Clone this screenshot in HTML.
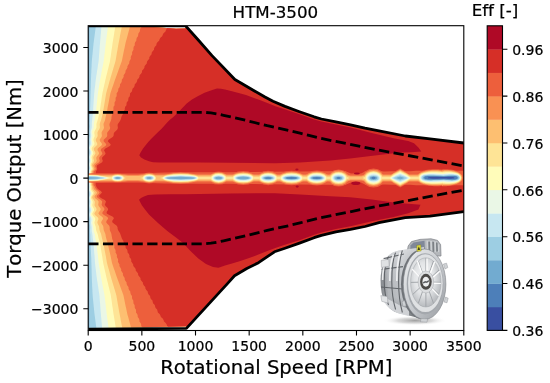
<!DOCTYPE html>
<html><head><meta charset="utf-8"><title>HTM-3500</title>
<style>html,body{margin:0;padding:0;background:#fff;overflow:hidden}svg{display:block}text{font-family:"DejaVu Sans","Liberation Sans",sans-serif;fill:#000;stroke:#000;stroke-width:0.22px;font-kerning:none;font-variant-ligatures:none}</style></head><body>
<svg width="550" height="383" viewBox="0 0 550 383">
<defs><clipPath id="env"><polygon points="88.2,26.0 150.0,26.7 176.0,28.8 185.0,28.6 186.4,26.8 198.5,40.3 212.0,55.6 234.9,79.5 246.0,86.0 254.5,91.0 265.0,97.0 273.0,101.3 285.0,106.4 299.5,111.7 314.1,116.8 321.4,119.0 335.9,121.9 350.5,124.8 365.0,128.2 379.0,130.9 405.3,136.0 430.0,138.8 463.8,143.0 463.8,211.6 430.0,216.2 405.3,217.6 379.0,222.7 365.0,226.5 350.5,229.4 335.9,231.9 321.4,235.3 314.1,237.7 299.5,243.1 285.0,248.2 274.5,251.8 258.5,262.7 246.8,268.5 234.5,275.8 227.9,283.1 188.0,326.2 88.2,328.5"/></clipPath>
<clipPath id="axc"><rect x="88.2" y="25.7" width="375.6" height="304.8"/></clipPath>
<linearGradient id="mBody" x1="0" y1="0" x2="1" y2="0"><stop offset="0" stop-color="#7d8186"/><stop offset="0.18" stop-color="#b9bcc0"/><stop offset="0.5" stop-color="#c9ccd0"/><stop offset="0.8" stop-color="#a3a7ab"/><stop offset="1" stop-color="#8b8f94"/></linearGradient>
<linearGradient id="mBodyV" x1="0" y1="0" x2="0" y2="1"><stop offset="0" stop-color="#e4e6e8" stop-opacity="0.75"/><stop offset="0.3" stop-color="#d0d2d5" stop-opacity="0.15"/><stop offset="0.7" stop-color="#6a6d71" stop-opacity="0.1"/><stop offset="1" stop-color="#4c4f53" stop-opacity="0.6"/></linearGradient>
<radialGradient id="mFace" cx="0.45" cy="0.42" r="0.6"><stop offset="0" stop-color="#f7f8f9"/><stop offset="0.55" stop-color="#e2e4e6"/><stop offset="1" stop-color="#b4b7bb"/></radialGradient>
<linearGradient id="mRing" x1="0" y1="0" x2="1" y2="1"><stop offset="0" stop-color="#f0f1f2"/><stop offset="0.5" stop-color="#c9ccd0"/><stop offset="1" stop-color="#969a9f"/></linearGradient>
<radialGradient id="mShadow" cx="0.5" cy="0.5" r="0.5"><stop offset="0" stop-color="#8e8e8e" stop-opacity="0.85"/><stop offset="0.55" stop-color="#bdbdbd" stop-opacity="0.55"/><stop offset="1" stop-color="#ffffff" stop-opacity="0"/></radialGradient>
<filter id="mBlur" x="-10%" y="-10%" width="120%" height="120%"><feGaussianBlur stdDeviation="0.45"/></filter>

</defs>
<rect width="550" height="383" fill="#fff"/>
<g clip-path="url(#env)">
<rect x="88" y="25" width="377" height="306" fill="#9dcee3"/>
<rect x="88" y="25" width="1.2" height="306" fill="#72abd0"/>
<polygon points="95.9,25.7 95.7,27.2 95.5,28.7 95.3,30.2 95.1,31.7 94.9,33.2 94.7,34.7 94.5,36.2 94.3,37.7 94.1,39.2 93.9,40.7 93.7,42.2 93.5,43.7 93.4,45.2 93.2,46.7 93.1,48.2 92.9,49.7 92.8,51.2 92.6,52.7 92.5,54.2 92.3,55.7 92.2,57.2 92.0,58.7 91.9,60.2 91.8,61.7 91.7,63.2 91.6,64.7 91.6,66.2 91.5,67.7 91.4,69.2 91.3,70.7 91.3,72.2 91.2,73.7 91.1,75.2 91.1,76.7 91.0,78.2 91.0,79.7 90.9,81.2 90.9,82.7 90.8,84.2 90.8,85.7 90.8,87.2 90.7,88.7 90.7,90.2 90.6,91.7 90.6,93.2 90.5,94.7 90.5,96.2 90.5,97.7 90.4,99.2 90.4,100.7 90.3,102.2 90.3,103.7 90.2,105.2 90.2,106.7 90.1,108.2 90.1,109.7 90.0,111.2 90.0,112.7 90.0,114.2 90.0,115.7 89.9,117.2 89.9,118.7 89.9,120.2 89.9,121.7 89.8,123.2 89.9,124.7 90.0,126.2 89.9,127.7 89.8,129.2 89.6,130.7 89.6,132.2 89.7,133.7 89.8,135.2 89.7,136.7 89.5,138.2 89.4,139.7 89.5,141.2 89.6,142.7 89.5,144.2 89.2,145.7 89.0,147.2 89.1,148.7 89.4,150.2 89.6,151.7 89.6,153.2 89.3,154.7 89.1,156.2 89.1,157.7 89.2,159.2 89.3,160.7 89.2,162.2 89.1,163.7 89.1,165.2 89.2,166.7 89.3,168.2 89.1,169.7 88.9,171.2 88.9,185.0 89.0,186.5 89.0,188.0 88.9,189.5 89.1,191.0 89.4,192.5 89.5,194.0 89.4,195.5 89.1,197.0 89.1,198.5 89.2,200.0 89.4,201.5 89.3,203.0 89.2,204.5 89.1,206.0 89.3,207.5 89.5,209.0 89.7,210.5 89.5,212.0 89.2,213.5 89.1,215.0 89.3,216.5 89.6,218.0 89.8,219.5 89.8,221.0 89.7,222.5 89.8,224.0 90.0,225.5 90.1,227.0 90.1,228.5 90.0,230.0 90.0,231.5 90.1,233.0 90.3,234.5 90.3,236.0 90.3,237.5 90.4,239.0 90.4,240.5 90.5,242.0 90.5,243.5 90.6,245.0 90.6,246.5 90.7,248.0 90.8,249.5 90.9,251.0 91.0,252.5 91.0,254.0 91.1,255.5 91.2,257.0 91.3,258.5 91.3,260.0 91.3,261.5 91.4,263.0 91.4,264.5 91.5,266.0 91.5,267.5 91.6,269.0 91.6,270.5 91.6,272.0 91.7,273.5 91.7,275.0 91.8,276.5 91.8,278.0 91.9,279.5 91.9,281.0 92.0,282.5 92.1,284.0 92.1,285.5 92.2,287.0 92.3,288.5 92.4,290.0 92.4,291.5 92.5,293.0 92.6,294.5 92.7,296.0 92.8,297.5 93.0,299.0 93.1,300.5 93.3,302.0 93.4,303.5 93.6,305.0 93.7,306.5 93.9,308.0 94.0,309.5 94.2,311.0 94.3,312.5 94.5,314.0 94.7,315.5 94.9,317.0 95.1,318.5 95.3,320.0 95.5,321.5 95.7,323.0 95.9,324.5 96.1,326.0 96.3,327.5 96.5,329.0 96.7,330.5 470.0,330.5 470.0,25.7" fill="#c7e7f1"/>
<polygon points="101.5,25.7 101.4,27.2 101.2,28.7 101.1,30.2 101.0,31.7 100.9,33.2 100.7,34.7 100.6,36.2 100.5,37.7 100.3,39.2 100.2,40.7 100.1,42.2 100.0,43.7 99.8,45.2 99.7,46.7 99.6,48.2 99.5,49.7 99.4,51.2 99.3,52.7 99.1,54.2 99.0,55.7 98.9,57.2 98.8,58.7 98.7,60.2 98.5,61.7 98.3,63.2 98.0,64.7 97.8,66.2 97.6,67.7 97.4,69.2 97.1,70.7 96.9,72.2 96.7,73.7 96.4,75.2 96.2,76.7 96.0,78.2 95.8,79.7 95.6,81.2 95.4,82.7 95.3,84.2 95.1,85.7 94.9,87.2 94.7,88.7 94.5,90.2 94.4,91.7 94.2,93.2 94.1,94.7 94.0,96.2 93.9,97.7 93.8,99.2 93.7,100.7 93.6,102.2 93.5,103.7 93.4,105.2 93.3,106.7 93.2,108.2 93.2,109.7 93.1,111.2 92.9,112.7 92.8,114.2 92.6,115.7 92.5,117.2 92.3,118.7 92.2,120.2 91.9,121.7 91.8,123.2 91.8,124.7 91.8,126.2 91.7,127.7 91.3,129.2 90.9,130.7 90.7,132.2 90.9,133.7 91.1,135.2 91.0,136.7 90.6,138.2 90.5,139.7 90.7,141.2 90.9,142.7 90.8,144.2 90.2,145.7 89.7,147.2 89.7,148.7 90.2,150.2 90.7,151.7 90.7,153.2 90.3,154.7 89.8,156.2 89.7,157.7 90.0,159.2 90.1,160.7 90.0,162.2 89.6,163.7 89.6,165.2 89.9,166.7 90.1,168.2 89.9,169.7 89.5,171.2 89.5,185.0 89.7,186.5 89.6,188.0 89.5,189.5 89.8,191.0 90.4,192.5 90.6,194.0 90.2,195.5 89.8,197.0 89.7,198.5 90.0,200.0 90.3,201.5 90.2,203.0 90.0,204.5 89.9,206.0 90.3,207.5 90.8,209.0 90.9,210.5 90.6,212.0 90.0,213.5 89.9,215.0 90.3,216.5 91.0,218.0 91.3,219.5 91.2,221.0 91.0,222.5 91.1,224.0 91.4,225.5 91.6,227.0 91.7,228.5 91.7,230.0 91.8,231.5 92.2,233.0 92.4,234.5 92.6,236.0 92.7,237.5 92.9,239.0 93.1,240.5 93.3,242.0 93.4,243.5 93.6,245.0 93.7,246.5 93.8,248.0 94.0,249.5 94.1,251.0 94.2,252.5 94.3,254.0 94.5,255.5 94.6,257.0 94.7,258.5 94.8,260.0 94.9,261.5 95.0,263.0 95.2,264.5 95.3,266.0 95.5,267.5 95.7,269.0 95.9,270.5 96.1,272.0 96.2,273.5 96.4,275.0 96.6,276.5 96.8,278.0 97.0,279.5 97.2,281.0 97.5,282.5 97.7,284.0 97.9,285.5 98.2,287.0 98.4,288.5 98.6,290.0 98.8,291.5 99.1,293.0 99.3,294.5 99.5,296.0 99.6,297.5 99.7,299.0 99.8,300.5 99.9,302.0 100.1,303.5 100.2,305.0 100.3,306.5 100.4,308.0 100.5,309.5 100.6,311.0 100.8,312.5 100.9,314.0 101.0,315.5 101.1,317.0 101.3,318.5 101.4,320.0 101.5,321.5 101.7,323.0 101.8,324.5 101.9,326.0 102.0,327.5 102.2,329.0 102.3,330.5 470.0,330.5 470.0,25.7" fill="#eaf7e6"/>
<polygon points="108.1,25.7 107.9,27.2 107.7,28.7 107.5,30.2 107.3,31.7 107.1,33.2 106.9,34.7 106.7,36.2 106.5,37.7 106.3,39.2 106.1,40.7 105.9,42.2 105.7,43.7 105.6,45.2 105.4,46.7 105.2,48.2 105.0,49.7 104.9,51.2 104.7,52.7 104.5,54.2 104.3,55.7 104.2,57.2 104.0,58.7 103.8,60.2 103.6,61.7 103.3,63.2 103.0,64.7 102.7,66.2 102.4,67.7 102.1,69.2 101.8,70.7 101.5,72.2 101.3,73.7 101.0,75.2 100.7,76.7 100.4,78.2 100.1,79.7 99.9,81.2 99.6,82.7 99.4,84.2 99.1,85.7 98.9,87.2 98.6,88.7 98.4,90.2 98.1,91.7 97.9,93.2 97.7,94.7 97.6,96.2 97.4,97.7 97.3,99.2 97.1,100.7 97.0,102.2 96.8,103.7 96.7,105.2 96.5,106.7 96.4,108.2 96.2,109.7 96.1,111.2 95.9,112.7 95.6,114.2 95.4,115.7 95.1,117.2 94.8,118.7 94.5,120.2 94.2,121.7 93.8,123.2 93.8,124.7 93.8,126.2 93.7,127.7 93.1,129.2 92.4,130.7 92.1,132.2 92.3,133.7 92.6,135.2 92.5,136.7 92.0,138.2 91.7,139.7 92.0,141.2 92.4,142.7 92.3,144.2 91.6,145.7 90.6,147.2 90.4,148.7 91.0,150.2 91.8,151.7 91.9,153.2 91.4,154.7 90.7,156.2 90.5,157.7 90.8,159.2 91.0,160.7 90.7,162.2 90.2,163.7 90.1,165.2 90.5,166.7 90.9,168.2 90.6,169.7 90.0,171.2 90.1,185.0 90.3,186.5 90.1,188.0 90.1,189.5 90.7,191.0 91.5,192.5 91.6,194.0 91.0,195.5 90.3,197.0 90.3,198.5 90.8,200.0 91.3,201.5 91.3,203.0 90.9,204.5 90.9,206.0 91.5,207.5 92.2,209.0 92.3,210.5 91.6,212.0 90.9,213.5 90.9,215.0 91.8,216.5 92.7,218.0 93.0,219.5 92.7,221.0 92.4,222.5 92.5,224.0 92.9,225.5 93.3,227.0 93.4,228.5 93.5,230.0 93.8,231.5 94.3,233.0 94.8,234.5 95.0,236.0 95.2,237.5 95.5,239.0 95.8,240.5 96.1,242.0 96.4,243.5 96.6,245.0 96.8,246.5 97.0,248.0 97.2,249.5 97.3,251.0 97.5,252.5 97.7,254.0 97.9,255.5 98.1,257.0 98.2,258.5 98.4,260.0 98.5,261.5 98.7,263.0 98.9,264.5 99.2,266.0 99.4,267.5 99.7,269.0 99.9,270.5 100.2,272.0 100.4,273.5 100.7,275.0 100.9,276.5 101.2,278.0 101.5,279.5 101.8,281.0 102.1,282.5 102.3,284.0 102.6,285.5 102.9,287.0 103.2,288.5 103.5,290.0 103.8,291.5 104.1,293.0 104.4,294.5 104.6,296.0 104.8,297.5 105.0,299.0 105.1,300.5 105.3,302.0 105.5,303.5 105.7,305.0 105.8,306.5 106.0,308.0 106.2,309.5 106.4,311.0 106.5,312.5 106.7,314.0 106.9,315.5 107.1,317.0 107.3,318.5 107.5,320.0 107.7,321.5 107.9,323.0 108.1,324.5 108.3,326.0 108.5,327.5 108.7,329.0 108.9,330.5 470.0,330.5 470.0,25.7" fill="#fffcba"/>
<polygon points="115.4,25.7 115.2,27.2 114.9,28.7 114.7,30.2 114.4,31.7 114.2,33.2 114.0,34.7 113.7,36.2 113.5,37.7 113.2,39.2 113.0,40.7 112.7,42.2 112.5,43.7 112.3,45.2 112.1,46.7 111.9,48.2 111.6,49.7 111.4,51.2 111.2,52.7 111.0,54.2 110.8,55.7 110.6,57.2 110.3,58.7 110.1,60.2 109.9,61.7 109.5,63.2 109.1,64.7 108.7,66.2 108.4,67.7 108.0,69.2 107.6,70.7 107.3,72.2 106.9,73.7 106.5,75.2 106.1,76.7 105.8,78.2 105.4,79.7 105.1,81.2 104.8,82.7 104.4,84.2 104.1,85.7 103.7,87.2 103.4,88.7 103.1,90.2 102.7,91.7 102.4,93.2 102.2,94.7 101.9,96.2 101.7,97.7 101.5,99.2 101.3,100.7 101.1,102.2 100.8,103.7 100.6,105.2 100.4,106.7 100.2,108.2 100.0,109.7 99.7,111.2 99.5,112.7 99.1,114.2 98.7,115.7 98.4,117.2 98.0,118.7 97.6,120.2 97.1,121.7 96.6,123.2 96.4,124.7 96.5,126.2 96.4,127.7 95.7,129.2 94.8,130.7 94.3,132.2 94.4,133.7 94.7,135.2 94.6,136.7 93.8,138.2 93.4,139.7 93.7,141.2 94.4,142.7 94.5,144.2 93.5,145.7 92.2,147.2 91.6,148.7 92.1,150.2 93.1,151.7 93.5,153.2 92.8,154.7 91.9,156.2 91.6,157.7 92.0,159.2 92.3,160.7 91.9,162.2 91.0,163.7 90.8,165.2 91.3,166.7 91.9,168.2 91.6,169.7 90.7,171.2 90.7,185.0 91.0,186.5 90.9,188.0 91.0,189.5 91.9,191.0 93.0,192.5 92.9,194.0 91.9,195.5 91.0,197.0 91.1,198.5 92.0,200.0 92.7,201.5 92.7,203.0 92.3,204.5 92.4,206.0 93.2,207.5 94.0,209.0 94.0,210.5 93.1,212.0 92.3,213.5 92.6,215.0 93.9,216.5 95.1,218.0 95.3,219.5 94.8,221.0 94.4,222.5 94.7,224.0 95.3,225.5 95.8,227.0 95.9,228.5 96.1,230.0 96.6,231.5 97.2,233.0 97.8,234.5 98.1,236.0 98.4,237.5 98.8,239.0 99.2,240.5 99.6,242.0 100.0,243.5 100.3,245.0 100.5,246.5 100.8,248.0 101.0,249.5 101.3,251.0 101.5,252.5 101.8,254.0 102.0,255.5 102.3,257.0 102.5,258.5 102.7,260.0 103.0,261.5 103.2,263.0 103.5,264.5 103.9,266.0 104.2,267.5 104.5,269.0 104.9,270.5 105.2,272.0 105.6,273.5 105.9,275.0 106.2,276.5 106.6,278.0 106.9,279.5 107.3,281.0 107.7,282.5 108.1,284.0 108.4,285.5 108.8,287.0 109.2,288.5 109.5,290.0 109.9,291.5 110.3,293.0 110.7,294.5 110.9,296.0 111.1,297.5 111.4,299.0 111.6,300.5 111.8,302.0 112.0,303.5 112.2,305.0 112.4,306.5 112.7,308.0 112.9,309.5 113.1,311.0 113.3,312.5 113.5,314.0 113.8,315.5 114.0,317.0 114.3,318.5 114.5,320.0 114.8,321.5 115.0,323.0 115.2,324.5 115.5,326.0 115.7,327.5 116.0,329.0 116.2,330.5 470.0,330.5 470.0,25.7" fill="#fee496"/>
<polygon points="122.0,25.7 121.7,27.2 121.4,28.7 121.1,30.2 120.8,31.7 120.5,33.2 120.2,34.7 119.9,36.2 119.7,37.7 119.4,39.2 119.1,40.7 118.8,42.2 118.5,43.7 118.2,45.2 118.0,46.7 117.7,48.2 117.5,49.7 117.2,51.2 116.9,52.7 116.7,54.2 116.4,55.7 116.2,57.2 115.9,58.7 115.7,60.2 115.3,61.7 114.9,63.2 114.4,64.7 114.0,66.2 113.5,67.7 113.1,69.2 112.6,70.7 112.2,72.2 111.7,73.7 111.3,75.2 110.8,76.7 110.4,78.2 110.0,79.7 109.5,81.2 109.1,82.7 108.7,84.2 108.3,85.7 107.9,87.2 107.4,88.7 107.0,90.2 106.6,91.7 106.2,93.2 105.9,94.7 105.7,96.2 105.4,97.7 105.2,99.2 104.9,100.7 104.7,102.2 104.4,103.7 104.2,105.2 103.9,106.7 103.7,108.2 103.4,109.7 103.2,111.2 102.9,112.7 102.5,114.2 102.1,115.7 101.8,117.2 101.4,118.7 101.0,120.2 100.4,121.7 99.9,123.2 99.7,124.7 99.9,126.2 99.9,127.7 99.3,129.2 98.2,130.7 97.5,132.2 97.5,133.7 97.7,135.2 97.4,136.7 96.4,138.2 95.7,139.7 96.0,141.2 96.9,142.7 97.4,144.2 96.4,145.7 94.7,147.2 93.7,148.7 94.0,150.2 95.0,151.7 95.5,153.2 94.8,154.7 93.7,156.2 93.2,157.7 93.6,159.2 94.0,160.7 93.5,162.2 92.3,163.7 91.7,165.2 92.3,166.7 93.0,168.2 92.8,169.7 91.5,171.2 91.4,185.0 92.1,186.5 92.1,188.0 92.4,189.5 93.6,191.0 94.7,192.5 94.3,194.0 93.0,195.5 92.1,197.0 92.6,198.5 93.9,200.0 94.8,201.5 94.8,203.0 94.5,204.5 94.7,206.0 95.8,207.5 96.6,209.0 96.3,210.5 95.1,212.0 94.3,213.5 95.0,215.0 96.8,216.5 98.3,218.0 98.4,219.5 97.6,221.0 97.3,222.5 97.8,224.0 98.7,225.5 99.2,227.0 99.3,228.5 99.5,230.0 100.0,231.5 100.7,233.0 101.2,234.5 101.5,236.0 101.8,237.5 102.2,239.0 102.6,240.5 103.0,242.0 103.4,243.5 103.7,245.0 104.0,246.5 104.3,248.0 104.5,249.5 104.8,251.0 105.1,252.5 105.4,254.0 105.7,255.5 106.0,257.0 106.2,258.5 106.5,260.0 106.7,261.5 107.0,263.0 107.4,264.5 107.8,266.0 108.2,267.5 108.7,269.0 109.1,270.5 109.5,272.0 109.9,273.5 110.3,275.0 110.8,276.5 111.2,278.0 111.6,279.5 112.1,281.0 112.5,282.5 113.0,284.0 113.4,285.5 113.9,287.0 114.3,288.5 114.8,290.0 115.2,291.5 115.7,293.0 116.1,294.5 116.5,296.0 116.7,297.5 117.0,299.0 117.2,300.5 117.5,302.0 117.7,303.5 118.0,305.0 118.3,306.5 118.5,308.0 118.8,309.5 119.0,311.0 119.3,312.5 119.6,314.0 119.9,315.5 120.2,317.0 120.5,318.5 120.7,320.0 121.0,321.5 121.3,323.0 121.6,324.5 121.9,326.0 122.2,327.5 122.5,329.0 122.8,330.5 470.0,330.5 470.0,25.7" fill="#fdbf71"/>
<polygon points="130.2,25.7 129.8,27.2 129.4,28.7 129.0,30.2 128.6,31.7 128.2,33.2 127.8,34.7 127.4,36.2 127.0,37.7 126.6,39.2 126.1,40.7 125.7,42.2 125.4,43.7 125.1,45.2 124.8,46.7 124.5,48.2 124.1,49.7 123.8,51.2 123.5,52.7 123.2,54.2 122.9,55.7 122.6,57.2 122.3,58.7 122.0,60.2 121.6,61.7 121.0,63.2 120.5,64.7 119.9,66.2 119.4,67.7 118.8,69.2 118.3,70.7 117.8,72.2 117.2,73.7 116.7,75.2 116.1,76.7 115.6,78.2 115.0,79.7 114.5,81.2 114.0,82.7 113.5,84.2 113.0,85.7 112.4,87.2 111.9,88.7 111.4,90.2 110.9,91.7 110.4,93.2 110.1,94.7 109.8,96.2 109.5,97.7 109.2,99.2 109.0,100.7 108.7,102.2 108.4,103.7 108.1,105.2 107.8,106.7 107.5,108.2 107.3,109.7 107.0,111.2 106.7,112.7 106.3,114.2 106.0,115.7 105.6,117.2 105.3,118.7 105.0,120.2 104.4,121.7 103.7,123.2 103.5,124.7 103.8,126.2 104.0,127.7 103.5,129.2 102.4,130.7 101.6,132.2 101.6,133.7 101.9,135.2 101.7,136.7 100.6,138.2 99.6,139.7 100.0,141.2 101.3,142.7 102.1,144.2 101.2,145.7 99.1,147.2 97.6,148.7 97.5,150.2 98.5,151.7 99.1,153.2 98.4,154.7 97.0,156.2 96.2,157.7 96.4,159.2 96.8,160.7 96.1,162.2 94.4,163.7 93.3,165.2 93.6,166.7 94.4,168.2 94.1,169.7 92.5,171.2 92.3,185.0 93.3,186.5 93.5,188.0 94.2,189.5 95.9,191.0 97.1,192.5 96.5,194.0 95.0,195.5 94.4,197.0 95.5,198.5 97.4,200.0 98.6,201.5 98.5,203.0 98.2,204.5 98.6,206.0 99.9,207.5 100.8,209.0 100.3,210.5 99.0,212.0 98.4,213.5 99.6,215.0 101.7,216.5 103.1,218.0 102.7,219.5 101.6,221.0 101.1,222.5 101.8,224.0 102.9,225.5 103.4,227.0 103.5,228.5 103.7,230.0 104.3,231.5 105.0,233.0 105.5,234.5 105.7,236.0 106.0,237.5 106.4,239.0 106.9,240.5 107.3,242.0 107.7,243.5 108.0,245.0 108.4,246.5 108.7,248.0 109.1,249.5 109.4,251.0 109.8,252.5 110.1,254.0 110.5,255.5 110.8,257.0 111.1,258.5 111.4,260.0 111.7,261.5 112.0,263.0 112.5,264.5 113.0,266.0 113.5,267.5 114.0,269.0 114.6,270.5 115.1,272.0 115.6,273.5 116.1,275.0 116.6,276.5 117.2,278.0 117.7,279.5 118.3,281.0 118.8,282.5 119.4,284.0 119.9,285.5 120.4,287.0 121.0,288.5 121.5,290.0 122.1,291.5 122.6,293.0 123.2,294.5 123.6,296.0 123.9,297.5 124.2,299.0 124.5,300.5 124.8,302.0 125.1,303.5 125.4,305.0 125.7,306.5 126.1,308.0 126.4,309.5 126.7,311.0 127.0,312.5 127.3,314.0 127.7,315.5 128.2,317.0 128.6,318.5 129.0,320.0 129.4,321.5 129.8,323.0 130.2,324.5 130.6,326.0 131.0,327.5 131.4,329.0 131.8,330.5 470.0,330.5 470.0,25.7" fill="#f99153"/>
<polygon points="141.8,25.7 141.4,27.2 140.2,28.7 140.0,30.2 139.7,31.7 138.5,33.2 138.2,34.7 138.0,36.2 136.8,37.7 136.4,39.2 136.3,40.7 135.1,42.2 134.7,43.7 134.8,45.2 133.7,46.7 133.4,48.2 133.5,49.7 132.5,51.2 132.0,52.7 132.2,54.2 131.2,55.7 130.7,57.2 130.9,58.7 130.0,60.2 129.3,61.7 129.3,63.2 128.3,64.7 127.4,66.2 127.4,67.7 126.5,69.2 125.5,70.7 125.5,72.2 124.7,73.7 123.6,75.2 123.7,76.7 122.9,78.2 121.8,79.7 121.8,81.2 121.2,82.7 120.0,84.2 120.0,85.7 119.5,87.2 118.3,88.7 118.3,90.2 117.8,91.7 116.6,93.2 116.7,94.7 116.6,96.2 115.6,97.7 115.6,99.2 115.6,100.7 114.6,102.2 114.5,103.7 114.6,105.2 113.5,106.7 113.4,108.2 113.5,109.7 112.6,111.2 112.4,112.7 112.4,114.2 111.7,115.7 111.5,117.2 111.4,118.7 111.0,120.2 110.4,121.7 109.7,123.2 109.4,124.7 109.7,126.2 110.2,127.7 109.8,129.2 108.7,130.7 107.4,132.2 107.1,133.7 107.3,135.2 106.9,136.7 105.3,138.2 103.7,139.7 103.6,141.2 105.0,142.7 106.3,144.2 105.7,145.7 103.4,147.2 101.3,148.7 100.7,150.2 101.6,151.7 102.4,153.2 101.7,154.7 100.1,156.2 99.1,157.7 99.3,159.2 99.8,160.7 99.1,162.2 96.9,163.7 95.2,165.2 95.2,166.7 95.9,168.2 95.6,169.7 93.7,171.2 93.5,185.0 94.7,186.5 95.3,188.0 96.4,189.5 98.4,191.0 99.6,192.5 98.7,194.0 97.1,195.5 96.8,197.0 98.6,198.5 100.9,200.0 102.2,201.5 102.0,203.0 101.6,204.5 102.1,206.0 103.7,207.5 104.6,209.0 103.9,210.5 102.6,212.0 102.3,213.5 104.0,215.0 106.7,216.5 108.2,218.0 107.6,219.5 106.4,221.0 106.3,222.5 107.5,224.0 109.1,225.5 109.7,227.0 109.7,228.5 109.8,230.0 110.4,231.5 111.1,233.0 111.5,234.5 111.7,236.0 112.0,237.5 112.2,239.0 112.9,240.5 113.2,242.0 113.2,243.5 114.1,245.0 114.4,246.5 114.3,248.0 115.3,249.5 115.7,251.0 115.5,252.5 116.5,254.0 117.0,255.5 116.8,257.0 117.7,258.5 118.2,260.0 117.9,261.5 118.6,263.0 119.5,264.5 119.4,266.0 120.3,267.5 121.2,269.0 121.1,270.5 122.0,272.0 123.0,273.5 122.9,275.0 123.7,276.5 124.7,278.0 124.7,279.5 125.5,281.0 126.6,282.5 126.6,284.0 127.3,285.5 128.5,287.0 128.5,288.5 129.1,290.0 130.3,291.5 130.4,293.0 130.9,294.5 132.0,296.0 132.0,297.5 132.2,299.0 133.3,300.5 133.4,302.0 133.5,303.5 134.6,305.0 134.7,306.5 134.8,308.0 135.9,309.5 136.1,311.0 136.0,312.5 137.2,314.0 137.7,315.5 137.7,317.0 138.9,318.5 139.4,320.0 139.4,321.5 140.6,323.0 141.2,324.5 141.2,326.0 142.3,327.5 143.0,329.0 142.9,330.5 470.0,330.5 470.0,25.7" fill="#ed5f3c"/>
<polygon points="169.1,25.7 168.4,27.2 166.6,28.7 165.9,30.2 165.3,31.7 163.5,33.2 162.8,34.7 162.2,36.2 160.4,37.7 159.6,39.2 159.1,40.7 157.4,42.2 156.5,43.7 156.4,45.2 154.9,46.7 154.1,48.2 154.0,49.7 152.6,51.2 151.7,52.7 151.6,54.2 150.3,55.7 149.3,57.2 149.3,58.7 148.0,60.2 146.9,61.7 146.9,63.2 145.7,64.7 144.5,66.2 144.4,67.7 143.4,69.2 142.0,70.7 142.0,72.2 141.0,73.7 139.6,75.2 139.5,76.7 138.7,78.2 137.2,79.7 137.1,81.2 136.3,82.7 134.8,84.2 134.6,85.7 134.0,87.2 132.5,88.7 132.2,90.2 131.7,91.7 130.1,93.2 130.0,94.7 129.8,96.2 128.5,97.7 128.3,99.2 128.2,100.7 126.8,102.2 126.5,103.7 126.5,105.2 125.2,106.7 124.8,108.2 124.8,109.7 123.6,111.2 123.1,112.7 122.9,114.2 121.9,115.7 121.3,117.2 121.0,118.7 120.4,120.2 119.5,121.7 118.4,123.2 117.6,124.7 117.7,126.2 117.9,127.7 117.5,129.2 116.1,130.7 114.4,132.2 113.7,133.7 113.7,135.2 113.0,136.7 110.8,138.2 108.5,139.7 107.8,141.2 109.1,142.7 110.7,144.2 110.2,145.7 107.7,147.2 105.0,148.7 104.0,150.2 104.8,151.7 105.6,153.2 105.0,154.7 103.3,156.2 102.0,157.7 102.2,159.2 102.8,160.7 102.2,162.2 99.7,163.7 97.2,165.2 96.7,166.7 97.2,168.2 97.1,169.7 95.9,171.2 95.6,185.0 96.3,186.5 97.0,188.0 98.6,189.5 100.9,191.0 102.0,192.5 100.7,194.0 99.2,195.5 99.5,197.0 101.9,198.5 104.8,200.0 106.0,201.5 105.5,203.0 104.8,204.5 105.5,206.0 107.2,207.5 108.2,209.0 107.7,210.5 106.6,212.0 106.8,213.5 109.3,215.0 112.5,216.5 114.0,218.0 113.2,219.5 112.1,221.0 112.5,222.5 114.4,224.0 116.5,225.5 117.5,227.0 117.6,228.5 118.0,230.0 118.9,231.5 119.9,233.0 120.5,234.5 121.0,236.0 121.5,237.5 122.1,239.0 123.1,240.5 123.6,242.0 124.0,243.5 125.2,245.0 125.6,246.5 125.7,248.0 127.1,249.5 127.5,251.0 127.6,252.5 128.9,254.0 129.5,255.5 129.4,257.0 130.7,258.5 131.3,260.0 131.2,261.5 132.3,263.0 133.2,264.5 133.3,266.0 134.6,267.5 135.7,269.0 135.7,270.5 136.9,272.0 138.1,273.5 138.1,275.0 139.2,276.5 140.5,278.0 140.5,279.5 141.6,281.0 142.9,282.5 143.0,284.0 143.9,285.5 145.3,287.0 145.4,288.5 146.3,290.0 147.7,291.5 147.9,293.0 148.6,294.5 150.1,296.0 150.3,297.5 150.9,299.0 152.5,300.5 152.7,302.0 153.2,303.5 154.8,305.0 155.1,306.5 155.6,308.0 157.1,309.5 157.5,311.0 157.9,312.5 159.6,314.0 160.4,315.5 160.9,317.0 162.7,318.5 163.6,320.0 164.0,321.5 165.7,323.0 166.7,324.5 167.1,326.0 168.8,327.5 169.9,329.0 170.3,330.5 470.0,330.5 470.0,25.7" fill="#d62f27"/>
<polygon points="88.2,173.4 92.0,173.2 100.0,173.2 125.0,173.6 140.0,173.6 150.0,173.1 165.0,172.4 200.0,172.2 230.0,172.2 250.0,172.0 268.0,171.8 300.0,171.5 328.0,171.2 345.0,171.0 351.0,173.4 361.0,173.4 366.0,171.0 385.0,171.4 392.0,171.2 410.0,171.2 416.0,170.8 463.8,170.8 463.8,185.2 416.0,185.2 410.0,184.8 392.0,184.8 385.0,184.6 366.0,185.0 361.0,182.6 351.0,182.6 345.0,185.0 328.0,184.8 300.0,184.5 268.0,184.2 250.0,184.0 230.0,183.8 200.0,183.8 165.0,183.6 150.0,182.9 140.0,182.4 125.0,182.4 100.0,182.8 92.0,182.8 88.2,182.6" fill="#ed5f3c"/>
<ellipse cx="117.7" cy="178" rx="9.1" ry="4.62" fill="#ed5f3c"/>
<ellipse cx="149.2" cy="178" rx="9.4" ry="5.41" fill="#ed5f3c"/>
<ellipse cx="180.7" cy="178" rx="21.1" ry="6.07" fill="#ed5f3c"/>
<ellipse cx="218.6" cy="178" rx="10.6" ry="6.60" fill="#ed5f3c"/>
<ellipse cx="243.2" cy="178" rx="13.5" ry="6.93" fill="#ed5f3c"/>
<ellipse cx="268.2" cy="178" rx="11.9" ry="7.13" fill="#ed5f3c"/>
<ellipse cx="291.5" cy="178" rx="14.2" ry="7.26" fill="#ed5f3c"/>
<ellipse cx="316.8" cy="178" rx="13.0" ry="7.59" fill="#ed5f3c"/>
<ellipse cx="338.6" cy="178" rx="11.2" ry="8.58" fill="#ed5f3c"/>
<ellipse cx="373.5" cy="178" rx="11.5" ry="9.57" fill="#ed5f3c"/>
<path d="M385.7,178 Q392.2,172.2 400.2,168.6 Q408.2,172.2 414.7,178 Q408.2,183.8 400.2,187.4 Q392.2,183.8 385.7,178Z" fill="#ed5f3c"/>
<path d="M415.8,177.80 C415.8,167.43 443.2,169.09 442.5,170.16 C435.8,169.09 463.2,167.43 463.2,177.80 C463.2,188.18 435.8,186.52 442.5,185.44 C443.2,186.52 415.8,188.18 415.8,177.80 Z" fill="#ed5f3c"/>
<polygon points="88.2,174.5 104.0,174.5 124.0,174.5 128.0,175.1 138.0,175.1 142.0,174.5 347.0,174.5 350.5,175.4 361.5,175.4 365.0,174.5 420.0,174.5 420.0,181.5 365.0,181.5 361.5,180.6 350.5,180.6 347.0,181.5 142.0,181.5 138.0,180.9 128.0,180.9 124.0,181.5 104.0,181.5 88.2,181.5" fill="#f99153"/>
<ellipse cx="117.7" cy="178" rx="8.2" ry="3.99" fill="#f99153"/>
<ellipse cx="149.2" cy="178" rx="8.4" ry="4.67" fill="#f99153"/>
<ellipse cx="180.7" cy="178" rx="20.1" ry="5.24" fill="#f99153"/>
<ellipse cx="218.6" cy="178" rx="9.6" ry="5.70" fill="#f99153"/>
<ellipse cx="243.2" cy="178" rx="12.4" ry="5.99" fill="#f99153"/>
<ellipse cx="268.2" cy="178" rx="10.9" ry="6.16" fill="#f99153"/>
<ellipse cx="291.5" cy="178" rx="13.2" ry="6.27" fill="#f99153"/>
<ellipse cx="316.8" cy="178" rx="11.9" ry="6.55" fill="#f99153"/>
<ellipse cx="338.6" cy="178" rx="10.1" ry="7.41" fill="#f99153"/>
<ellipse cx="373.5" cy="178" rx="10.4" ry="8.27" fill="#f99153"/>
<path d="M386.8,178 Q392.8,172.7 400.2,169.5 Q407.6,172.7 413.6,178 Q407.6,183.3 400.2,186.5 Q392.8,183.3 386.8,178Z" fill="#f99153"/>
<path d="M416.6,177.80 C416.6,168.30 441.7,169.82 442.6,170.81 C437.5,169.82 462.6,168.30 462.6,177.80 C462.6,187.30 437.5,185.78 442.6,184.79 C441.7,185.78 416.6,187.30 416.6,177.80 Z" fill="#f99153"/>
<polygon points="88.2,175.5 104.0,175.5 124.0,175.5 128.0,175.9 138.0,175.9 142.0,175.5 347.0,175.5 350.5,176.4 361.5,176.4 365.0,175.5 420.0,175.5 420.0,180.5 365.0,180.5 361.5,179.6 350.5,179.6 347.0,180.5 142.0,180.5 138.0,180.1 128.0,180.1 124.0,180.5 104.0,180.5 88.2,180.5" fill="#fdbf71"/>
<polygon points="88.2,174.5 97.7,175.0 106.0,176.4 112.0,178.0 106.0,179.6 97.7,181.0 88.2,181.5" fill="#fdbf71"/>
<ellipse cx="117.7" cy="178" rx="7.4" ry="3.43" fill="#fdbf71"/>
<ellipse cx="149.2" cy="178" rx="7.6" ry="4.02" fill="#fdbf71"/>
<ellipse cx="180.7" cy="178" rx="19.2" ry="4.51" fill="#fdbf71"/>
<ellipse cx="218.6" cy="178" rx="8.7" ry="4.90" fill="#fdbf71"/>
<ellipse cx="243.2" cy="178" rx="11.5" ry="5.15" fill="#fdbf71"/>
<ellipse cx="268.2" cy="178" rx="10.0" ry="5.29" fill="#fdbf71"/>
<ellipse cx="291.5" cy="178" rx="12.3" ry="5.39" fill="#fdbf71"/>
<ellipse cx="316.8" cy="178" rx="11.0" ry="5.63" fill="#fdbf71"/>
<ellipse cx="338.6" cy="178" rx="9.1" ry="6.37" fill="#fdbf71"/>
<ellipse cx="373.5" cy="178" rx="9.5" ry="7.11" fill="#fdbf71"/>
<path d="M387.7,178 Q393.3,173.2 400.2,170.3 Q407.1,173.2 412.7,178 Q407.1,182.8 400.2,185.7 Q393.3,182.8 387.7,178Z" fill="#fdbf71"/>
<path d="M417.6,177.80 C417.6,169.18 440.4,170.56 442.7,171.45 C439.0,170.56 461.8,169.18 461.8,177.80 C461.8,186.43 439.0,185.05 442.7,184.15 C440.4,185.05 417.6,186.43 417.6,177.80 Z" fill="#fdbf71"/>
<polygon points="88.2,176.7 122.0,176.7 126.0,177.9 140.0,177.9 144.0,177.0 153.0,177.0 156.0,177.9 160.0,177.9 164.0,176.7 347.0,176.7 349.5,177.9 349.5,178.1 347.0,179.3 164.0,179.3 160.0,178.1 156.0,178.1 153.0,179.0 144.0,179.0 140.0,178.1 126.0,178.1 122.0,179.3 88.2,179.3" fill="#fee496"/>
<polygon points="362.5,177.9 365.0,176.7 420.0,176.7 420.0,179.3 365.0,179.3 362.5,178.1" fill="#fee496"/>
<polygon points="88.2,174.9 97.3,175.4 105.3,176.6 111.0,178.0 105.3,179.4 97.3,180.6 88.2,181.1" fill="#fee496"/>
<ellipse cx="117.7" cy="178" rx="6.7" ry="3.08" fill="#fee496"/>
<ellipse cx="149.2" cy="178" rx="6.9" ry="3.61" fill="#fee496"/>
<ellipse cx="180.7" cy="178" rx="18.5" ry="4.05" fill="#fee496"/>
<ellipse cx="218.6" cy="178" rx="8.0" ry="4.40" fill="#fee496"/>
<ellipse cx="243.2" cy="178" rx="10.8" ry="4.62" fill="#fee496"/>
<ellipse cx="268.2" cy="178" rx="9.3" ry="4.75" fill="#fee496"/>
<ellipse cx="291.5" cy="178" rx="11.6" ry="4.84" fill="#fee496"/>
<ellipse cx="316.8" cy="178" rx="10.3" ry="5.06" fill="#fee496"/>
<ellipse cx="338.6" cy="178" rx="8.4" ry="5.72" fill="#fee496"/>
<ellipse cx="373.5" cy="178" rx="8.7" ry="6.38" fill="#fee496"/>
<path d="M388.6,178 Q393.8,173.7 400.2,171.1 Q406.6,173.7 411.8,178 Q406.6,182.3 400.2,184.9 Q393.8,182.3 388.6,178Z" fill="#fee496"/>
<path d="M418.4,177.80 C418.4,170.05 438.9,171.29 442.9,172.10 C440.8,171.29 461.3,170.05 461.3,177.80 C461.3,185.55 440.8,184.31 442.9,183.50 C438.9,184.31 418.4,185.55 418.4,177.80 Z" fill="#fee496"/>
<polygon points="88.2,175.2 96.9,175.6 104.5,176.7 110.0,178.0 104.5,179.3 96.9,180.4 88.2,180.8" fill="#fffcba"/>
<ellipse cx="117.7" cy="178" rx="5.9" ry="2.73" fill="#fffcba"/>
<ellipse cx="149.2" cy="178" rx="6.1" ry="3.20" fill="#fffcba"/>
<ellipse cx="180.7" cy="178" rx="17.8" ry="3.59" fill="#fffcba"/>
<ellipse cx="218.6" cy="178" rx="7.2" ry="3.90" fill="#fffcba"/>
<ellipse cx="243.2" cy="178" rx="10.0" ry="4.09" fill="#fffcba"/>
<ellipse cx="268.2" cy="178" rx="8.4" ry="4.21" fill="#fffcba"/>
<ellipse cx="291.5" cy="178" rx="10.8" ry="4.29" fill="#fffcba"/>
<ellipse cx="316.8" cy="178" rx="9.5" ry="4.48" fill="#fffcba"/>
<ellipse cx="338.6" cy="178" rx="7.6" ry="5.07" fill="#fffcba"/>
<ellipse cx="373.5" cy="178" rx="7.8" ry="5.65" fill="#fffcba"/>
<path d="M389.6,178 Q394.4,174.3 400.2,172.0 Q406.0,174.3 410.8,178 Q406.0,181.7 400.2,184.0 Q394.4,181.7 389.6,178Z" fill="#fffcba"/>
<path d="M419.2,177.80 C419.2,171.05 437.0,172.13 443.0,172.83 C443.0,172.13 460.8,171.05 460.8,177.80 C460.8,184.55 443.0,183.47 443.0,182.77 C437.0,183.47 419.2,184.55 419.2,177.80 Z" fill="#fffcba"/>
<polygon points="88.2,175.5 96.4,175.9 103.6,176.9 108.7,178.0 103.6,179.1 96.4,180.1 88.2,180.5" fill="#eaf7e6"/>
<ellipse cx="117.7" cy="178" rx="5.2" ry="2.24" fill="#eaf7e6"/>
<ellipse cx="149.2" cy="178" rx="5.3" ry="2.62" fill="#eaf7e6"/>
<ellipse cx="180.7" cy="178" rx="17.0" ry="2.94" fill="#eaf7e6"/>
<ellipse cx="218.6" cy="178" rx="6.4" ry="3.20" fill="#eaf7e6"/>
<ellipse cx="243.2" cy="178" rx="9.2" ry="3.36" fill="#eaf7e6"/>
<ellipse cx="268.2" cy="178" rx="7.6" ry="3.46" fill="#eaf7e6"/>
<ellipse cx="291.5" cy="178" rx="9.9" ry="3.52" fill="#eaf7e6"/>
<ellipse cx="316.8" cy="178" rx="8.7" ry="3.68" fill="#eaf7e6"/>
<ellipse cx="338.6" cy="178" rx="6.7" ry="4.16" fill="#eaf7e6"/>
<ellipse cx="373.5" cy="178" rx="7.0" ry="4.64" fill="#eaf7e6"/>
<path d="M390.6,178 Q394.9,174.9 400.2,173.0 Q405.5,174.9 409.8,178 Q405.5,181.1 400.2,183.0 Q394.9,181.1 390.6,178Z" fill="#eaf7e6"/>
<path d="M420.0,177.80 C420.0,172.18 434.9,173.08 443.2,173.93 C445.5,173.08 460.4,172.18 460.4,177.80 C460.4,183.43 445.5,182.53 443.2,181.67 C434.9,182.53 420.0,183.43 420.0,177.80 Z" fill="#eaf7e6"/>
<polygon points="88.2,175.9 95.6,176.2 102.2,177.1 106.8,178.0 102.2,178.9 95.6,179.8 88.2,180.1" fill="#c7e7f1"/>
<ellipse cx="117.7" cy="178" rx="4.3" ry="1.75" fill="#c7e7f1"/>
<ellipse cx="149.2" cy="178" rx="4.5" ry="2.05" fill="#c7e7f1"/>
<ellipse cx="180.7" cy="178" rx="16.1" ry="2.30" fill="#c7e7f1"/>
<ellipse cx="218.6" cy="178" rx="5.5" ry="2.50" fill="#c7e7f1"/>
<ellipse cx="243.2" cy="178" rx="8.3" ry="2.62" fill="#c7e7f1"/>
<ellipse cx="268.2" cy="178" rx="6.7" ry="2.70" fill="#c7e7f1"/>
<ellipse cx="291.5" cy="178" rx="9.0" ry="2.75" fill="#c7e7f1"/>
<ellipse cx="316.8" cy="178" rx="7.7" ry="2.88" fill="#c7e7f1"/>
<ellipse cx="338.6" cy="178" rx="5.8" ry="3.25" fill="#c7e7f1"/>
<ellipse cx="373.5" cy="178" rx="6.0" ry="3.62" fill="#c7e7f1"/>
<path d="M391.8,178 Q395.6,175.6 400.2,174.1 Q404.8,175.6 408.6,178 Q404.8,180.4 400.2,181.9 Q395.6,180.4 391.8,178Z" fill="#c7e7f1"/>
<path d="M420.8,177.80 C420.8,173.18 433.0,173.92 443.4,174.62 C447.7,173.92 459.9,173.18 459.9,177.80 C459.9,182.43 447.7,181.69 443.4,180.98 C433.0,181.69 420.8,182.43 420.8,177.80 Z" fill="#c7e7f1"/>
<polygon points="88.2,176.3 94.8,176.6 100.5,177.2 104.6,178.0 100.5,178.8 94.8,179.4 88.2,179.7" fill="#9dcee3"/>
<ellipse cx="117.7" cy="178" rx="3.5" ry="1.26" fill="#9dcee3"/>
<ellipse cx="149.2" cy="178" rx="3.6" ry="1.48" fill="#9dcee3"/>
<ellipse cx="180.7" cy="178" rx="15.2" ry="1.66" fill="#9dcee3"/>
<ellipse cx="218.6" cy="178" rx="4.6" ry="1.80" fill="#9dcee3"/>
<ellipse cx="243.2" cy="178" rx="7.4" ry="1.89" fill="#9dcee3"/>
<ellipse cx="268.2" cy="178" rx="5.8" ry="1.94" fill="#9dcee3"/>
<ellipse cx="291.5" cy="178" rx="8.1" ry="1.98" fill="#9dcee3"/>
<ellipse cx="316.8" cy="178" rx="6.8" ry="2.07" fill="#9dcee3"/>
<ellipse cx="338.6" cy="178" rx="4.8" ry="2.34" fill="#9dcee3"/>
<ellipse cx="373.5" cy="178" rx="5.0" ry="2.61" fill="#9dcee3"/>
<path d="M393.2,178 Q396.3,176.3 400.2,175.2 Q404.1,176.3 407.2,178 Q404.1,179.7 400.2,180.8 Q396.3,179.7 393.2,178Z" fill="#9dcee3"/>
<path d="M421.7,177.80 C421.7,174.05 431.6,174.65 443.5,175.52 C449.5,174.65 459.4,174.05 459.4,177.80 C459.4,181.55 449.5,180.95 443.5,180.08 C431.6,180.95 421.7,181.55 421.7,177.80 Z" fill="#9dcee3"/>
<polygon points="88.2,177.0 93.1,177.2 97.4,177.6 100.5,178.0 97.4,178.4 93.1,178.8 88.2,179.0" fill="#72abd0"/>
<ellipse cx="117.7" cy="178" rx="2.4" ry="0.88" fill="#72abd0"/>
<ellipse cx="149.2" cy="178" rx="2.4" ry="1.02" fill="#72abd0"/>
<ellipse cx="180.7" cy="178" rx="14.0" ry="1.15" fill="#72abd0"/>
<ellipse cx="218.6" cy="178" rx="3.4" ry="1.25" fill="#72abd0"/>
<ellipse cx="243.2" cy="178" rx="6.2" ry="1.31" fill="#72abd0"/>
<ellipse cx="268.2" cy="178" rx="4.6" ry="1.35" fill="#72abd0"/>
<ellipse cx="291.5" cy="178" rx="6.9" ry="1.38" fill="#72abd0"/>
<ellipse cx="316.8" cy="178" rx="5.6" ry="1.44" fill="#72abd0"/>
<ellipse cx="338.6" cy="178" rx="3.5" ry="1.62" fill="#72abd0"/>
<ellipse cx="373.5" cy="178" rx="3.7" ry="1.81" fill="#72abd0"/>
<path d="M396.0,178 Q397.9,177.1 400.2,176.5 Q402.5,177.1 404.4,178 Q402.5,178.9 400.2,179.5 Q397.9,178.9 396.0,178Z" fill="#72abd0"/>
<path d="M423.0,177.80 C423.0,174.80 430.9,175.28 443.8,175.98 C450.6,175.28 458.5,174.80 458.5,177.80 C458.5,180.80 450.6,180.32 443.8,179.62 C430.9,180.32 423.0,180.80 423.0,177.80 Z" fill="#72abd0"/>
<ellipse cx="268.2" cy="178" rx="3.2" ry="0.86" fill="#4d7fb9"/>
<ellipse cx="291.5" cy="178" rx="5.4" ry="0.88" fill="#4d7fb9"/>
<ellipse cx="316.8" cy="178" rx="4.1" ry="0.92" fill="#4d7fb9"/>
<ellipse cx="338.6" cy="178" rx="2.0" ry="1.04" fill="#4d7fb9"/>
<ellipse cx="373.5" cy="178" rx="2.2" ry="1.16" fill="#4d7fb9"/>
<path d="M424.2,177.80 C424.2,175.55 430.1,175.91 443.9,176.43 C451.8,175.91 457.7,175.55 457.7,177.80 C457.7,180.05 451.8,179.69 443.9,179.17 C430.1,179.69 424.2,180.05 424.2,177.80 Z" fill="#4d7fb9"/>
<path d="M428.0,177.80 C428.0,176.68 431.0,176.86 444.2,177.12 C451.5,176.86 454.5,176.68 454.5,177.80 C454.5,178.93 451.5,178.75 444.2,178.48 C431.0,178.75 428.0,178.93 428.0,177.80 Z" fill="#394fa1"/>
<ellipse cx="296.9" cy="169.5" rx="1.6" ry="1.1" fill="#af0926"/>
<ellipse cx="297.2" cy="186.6" rx="1.6" ry="1.1" fill="#af0926"/>
<ellipse cx="356.9" cy="173.6" rx="3.0" ry="1.0" fill="#af0926"/>
<ellipse cx="355.8" cy="183.3" rx="4.6" ry="1.8" fill="#af0926"/>
<polygon points="139.3,155.3 140.6,152.4 142.9,148.8 145.6,145.2 148.7,141.6 151.8,138.3 155.1,135.1 158.4,131.8 161.6,128.7 164.5,125.5 167.4,122.2 170.2,119.6 173.1,117.2 178.0,112.6 182.6,107.8 186.7,103.6 192.0,99.6 197.7,96.3 204.5,92.8 212.3,90.0 217.0,88.6 221.0,88.8 225.0,89.6 232.0,91.2 239.5,93.2 246.0,95.0 254.0,98.0 261.0,100.4 268.6,103.5 276.0,106.4 283.2,108.8 299.5,114.3 314.1,119.4 321.4,121.6 335.9,124.5 350.5,127.6 371.8,133.1 393.6,138.2 408.2,141.1 414.0,143.3 418.4,147.6 421.3,151.4 411.0,152.3 398.0,152.7 379.0,154.9 350.0,158.5 330.0,160.6 300.0,162.4 275.0,163.2 230.0,162.8 200.0,162.5 185.0,162.4 170.0,162.6 160.0,162.6 153.0,162.2 149.0,161.2 144.4,159.6 141.0,157.6" fill="#af0926"/>
<polygon points="139.0,199.8 140.4,202.6 142.0,205.5 145.0,209.5 149.0,214.6 158.0,223.0 167.3,231.0 176.0,237.5 183.0,243.0 190.0,250.5 198.3,258.5 206.0,264.0 213.0,267.0 218.5,267.8 225.0,265.6 232.0,263.6 239.5,261.3 247.0,258.8 254.1,256.2 261.0,253.5 268.6,250.4 276.0,247.7 283.2,245.3 299.5,240.2 314.1,234.8 321.4,232.4 335.9,229.0 350.5,226.2 371.8,221.3 393.6,216.9 408.2,213.3 418.4,209.6 420.5,204.8 408.2,203.8 393.6,202.4 371.8,199.5 350.0,197.3 330.0,196.2 300.0,194.6 275.0,193.2 230.0,193.4 200.0,194.0 185.0,194.2 170.0,194.3 155.0,194.5 148.0,195.0 144.0,196.4 141.0,198.0" fill="#af0926"/>
</g>
<g clip-path="url(#axc)" fill="none" stroke="#000" stroke-width="2.8" stroke-linejoin="round">
<polyline points="88.2,25.8 185.6,25.8 198.5,40.3 212.0,55.6 234.9,79.5 246.0,86.0 254.5,91.0 265.0,97.0 273.0,101.3 285.0,106.4 299.5,111.7 314.1,116.8 321.4,119.0 335.9,121.9 350.5,124.8 365.0,128.2 379.0,130.9 405.3,136.0 430.0,138.8 463.8,143.0"/>
<polyline points="88.2,329.1 186.4,328.4 227.9,283.1 234.5,275.8 246.8,268.5 258.5,262.7 274.5,251.8 285.0,248.2 299.5,243.1 314.1,237.7 321.4,235.3 335.9,231.9 350.5,229.4 365.0,226.5 379.0,222.7 405.3,217.6 430.0,216.2 463.8,211.6"/>
<polyline points="88.2,112.3 204.0,112.3 211.0,112.9 217.0,113.9 223.6,115.3 245.5,120.3 267.3,125.7 289.0,130.5 300.0,133.2 320.0,138.2 375.0,149.4 420.0,157.7 463.8,166.0" stroke-dasharray="10.3 4.45" stroke-dashoffset="0"/>
<polyline points="88.2,243.8 204.0,243.8 211.0,243.2 217.0,242.2 223.6,240.8 245.5,235.8 267.3,230.4 289.0,225.6 300.0,222.9 320.0,217.9 375.0,206.7 420.0,198.4 463.8,190.1" stroke-dasharray="10.3 4.45"/>
</g>
<g id="motor">
<ellipse cx="415" cy="320.6" rx="32" ry="4.8" fill="url(#mShadow)"/>
<g filter="url(#mBlur)">
<!-- junction box -->
<path d="M406.5,256 L408.2,246 L411.5,241.6 L420,239.4 L431,238.8 L437.5,240.4 L440.6,244.6 L441,256 Z" fill="#b4b7bb" stroke="#7c8085" stroke-width="0.7"/>
<path d="M410.5,245.5 L413.5,242.4 L424.5,240.8 L425,252.5 L410,253.5 Z" fill="#808898"/>
<path d="M426.5,240.6 L436.8,241.6 L439.2,245.4 L439.2,252 L426.8,252.4 Z" fill="#cdd0d3"/>
<path d="M428.2,241.4 l1.9,0 l0.3,10.6 l-1.9,0.1Z M432.2,241.6 l1.9,0.2 l0.3,10 l-1.9,0.1Z M436,242.2 l1.6,0.6 l0.4,8.8 l-1.8,0.1Z" fill="#7b8085"/>
<!-- body cylinder -->
<path d="M399,250.5 C387,252.5 380.6,263 380.6,280.5 C380.6,298 386,309 398,313 L424,319 L424,247 Z" fill="url(#mBody)"/>
<path d="M399,250.5 C387,252.5 380.6,263 380.6,280.5 C380.6,298 386,309 398,313 L424,319 L424,247 Z" fill="url(#mBodyV)"/>
<!-- lower mount base -->
<path d="M381.2,296 L388,299 L400,305.5 L409,309 L409,316.2 L398,313.2 C390,310 384,304.5 381.2,296Z" fill="#d6d8db" opacity="0.9"/>
<!-- ribs / panels -->
<g fill="none" stroke="#585c60" stroke-width="1.1" opacity="0.9">
<path d="M388.6,256.5 C384.8,263 384.2,272 384.2,281 C384.2,290 385.4,298 388.6,305"/>
<path d="M395.6,252.6 C392.4,260 391.8,271 391.8,281.5 C391.8,292 393,301 395.6,309.5"/>
<path d="M402.4,250.4 C399.4,259 398.6,271 398.6,282 C398.6,294 400,304 402.4,312.5"/>
<path d="M381.6,269.4 L403,266.6 M381,287 L402.6,289 M383.6,258.6 L404,254"/>
</g>
<g fill="none" stroke="#f4f5f6" stroke-width="1.6" opacity="0.9">
<path d="M386.4,259.5 C383.4,266 382.6,274 382.6,280"/>
<path d="M393.4,255 C390.4,262 389.8,272 389.8,281"/>
<path d="M400.2,252.4 C397.4,261 396.8,271 396.8,281"/>
</g>
<!-- left tabs -->
<path d="M381.2,260.4 l7.6,-1.2 l0.4,7 l-7.8,1.2Z" fill="#dfe1e3" stroke="#8d9195" stroke-width="0.4"/>
<path d="M380.8,295.6 l6.6,1 l0.6,6.4 l-6.2,-1.6Z" fill="#e2e4e6" stroke="#8d9195" stroke-width="0.4"/>
<!-- front flange -->
<ellipse cx="422.4" cy="284.2" rx="21.4" ry="35" fill="#6f7378"/>
<ellipse cx="424.6" cy="284.2" rx="21.3" ry="35.2" fill="url(#mRing)" stroke="#7f8388" stroke-width="0.6"/>
<path d="M443.4,264 l3.2,-0.8 l1.2,4.4 l-2.8,1.4Z M445.6,297 l2.6,1.2 l-1.2,4.6 l-3,-0.8Z M421,318.6 l-0.6,3.2 l6.6,0.4 l0.6,-3.4Z M404.6,300.5 l-2.6,1.2 l1.2,4.8 l3,-0.8Z" fill="#cfd2d5" stroke="#85898d" stroke-width="0.4"/>
<ellipse cx="425" cy="283.8" rx="18.3" ry="30.6" fill="#a4a8ad"/>
<ellipse cx="425.4" cy="283.2" rx="17.3" ry="28.9" fill="#dfe1e3"/>
<ellipse cx="425.8" cy="282.4" rx="15.2" ry="24.6" fill="url(#mFace)" stroke="#a3a7ab" stroke-width="0.5"/>
<!-- spokes -->
<g stroke="#9ea2a6" stroke-width="1" opacity="0.9">
<path d="M425.9,282 L425.9,258 M425.9,282 L433.5,261 M425.9,282 L439,270 M425.9,282 L441,282.4 M425.9,282 L439,294.4 M425.9,282 L433.5,303.4 M425.9,282 L425.9,306.6 M425.9,282 L418.3,303.4 M425.9,282 L412.8,294.4 M425.9,282 L410.8,282.4 M425.9,282 L412.8,270 M425.9,282 L418.3,261"/>
</g>
<g stroke="#ffffff" stroke-width="1.3" opacity="0.95">
<path d="M426.9,282 L427,258.4 M427,282 L434.6,262 M427,282.6 L439.8,271.2 M427,283 L440.8,283.4 M426.6,283 L438.6,295.6 M425,282 L417.4,260.8 M425,282 L412.2,269.2"/>
</g>
<ellipse cx="425.9" cy="282" rx="7.8" ry="11" fill="#dcdee0" stroke="#a6a9ad" stroke-width="0.5"/>
<ellipse cx="425.9" cy="281.8" rx="5.8" ry="8" fill="#4b4846"/>
<ellipse cx="425.9" cy="281.8" rx="3.5" ry="5" fill="#ecedee"/>
<path d="M423.4,283.2 C425,279.8 427,284.4 428.6,280.4" fill="none" stroke="#3f4145" stroke-width="1.3"/>
<!-- sticker -->
<path d="M416.6,245.4 l4.2,-0.6 l0.4,6.2 l-4.2,0.6Z" fill="#dcd83a" stroke="#5a5c2a" stroke-width="0.3"/>
<path d="M418.8,246.4 l1.4,3.4 l-2.7,0.4Z" fill="#35361f"/>
</g>
</g>

<rect x="88.2" y="25.7" width="375.6" height="304.8" fill="none" stroke="#000" stroke-width="1.1"/>
<path d="M88.20,330.5v4.9M141.86,330.5v4.9M195.51,330.5v4.9M249.17,330.5v4.9M302.83,330.5v4.9M356.49,330.5v4.9M410.14,330.5v4.9M463.80,330.5v4.9M88.2,308.73h-4.9M88.2,265.19h-4.9M88.2,221.64h-4.9M88.2,178.10h-4.9M88.2,134.56h-4.9M88.2,91.01h-4.9M88.2,47.47h-4.9" stroke="#000" stroke-width="1.1" fill="none"/>
<text x="88.20" y="351.4" font-size="14.00" text-anchor="middle">0</text>
<text x="141.86" y="351.4" font-size="14.00" text-anchor="middle">500</text>
<text x="195.51" y="351.4" font-size="14.00" text-anchor="middle">1000</text>
<text x="249.17" y="351.4" font-size="14.00" text-anchor="middle">1500</text>
<text x="302.83" y="351.4" font-size="14.00" text-anchor="middle">2000</text>
<text x="356.49" y="351.4" font-size="14.00" text-anchor="middle">2500</text>
<text x="410.14" y="351.4" font-size="14.00" text-anchor="middle">3000</text>
<text x="463.80" y="351.4" font-size="14.00" text-anchor="middle">3500</text>
<text x="78.4" y="314.48" font-size="14.00" text-anchor="end">−3000</text>
<text x="78.4" y="270.94" font-size="14.00" text-anchor="end">−2000</text>
<text x="78.4" y="227.39" font-size="14.00" text-anchor="end">−1000</text>
<text x="78.4" y="183.85" font-size="14.00" text-anchor="end">0</text>
<text x="78.4" y="140.31" font-size="14.00" text-anchor="end">1000</text>
<text x="78.4" y="96.76" font-size="14.00" text-anchor="end">2000</text>
<text x="78.4" y="53.22" font-size="14.00" text-anchor="end">3000</text>
<text x="275.4" y="17.6" font-size="16.7" text-anchor="middle">HTM-3500</text>
<text x="276.3" y="374.4" font-size="19.65" text-anchor="middle">Rotational Speed [RPM]</text>
<text transform="translate(20.8,178.5) rotate(-90)" font-size="19.6" text-anchor="middle">Torque Output [Nm]</text>
<rect x="487.2" y="306.97" width="15.3" height="23.73" fill="#394fa1"/>
<rect x="487.2" y="283.54" width="15.3" height="23.73" fill="#4d7fb9"/>
<rect x="487.2" y="260.11" width="15.3" height="23.73" fill="#72abd0"/>
<rect x="487.2" y="236.68" width="15.3" height="23.73" fill="#9dcee3"/>
<rect x="487.2" y="213.25" width="15.3" height="23.73" fill="#c7e7f1"/>
<rect x="487.2" y="189.82" width="15.3" height="23.73" fill="#eaf7e6"/>
<rect x="487.2" y="166.38" width="15.3" height="23.73" fill="#fffcba"/>
<rect x="487.2" y="142.95" width="15.3" height="23.73" fill="#fee496"/>
<rect x="487.2" y="119.52" width="15.3" height="23.73" fill="#fdbf71"/>
<rect x="487.2" y="96.09" width="15.3" height="23.73" fill="#f99153"/>
<rect x="487.2" y="72.66" width="15.3" height="23.73" fill="#ed5f3c"/>
<rect x="487.2" y="49.23" width="15.3" height="23.73" fill="#d62f27"/>
<rect x="487.2" y="25.80" width="15.3" height="23.73" fill="#af0926"/>
<rect x="487.2" y="25.8" width="15.3" height="304.6" fill="none" stroke="#000" stroke-width="1.1"/>
<text x="512.2" y="336.10" font-size="14.00">0.36</text>
<text x="512.2" y="289.24" font-size="14.00">0.46</text>
<text x="512.2" y="242.38" font-size="14.00">0.56</text>
<text x="512.2" y="195.52" font-size="14.00">0.66</text>
<text x="512.2" y="148.65" font-size="14.00">0.76</text>
<text x="512.2" y="101.79" font-size="14.00">0.86</text>
<text x="512.2" y="54.93" font-size="14.00">0.96</text>
<path d="M502.5,330.40h4.9M502.5,283.54h4.9M502.5,236.68h4.9M502.5,189.82h4.9M502.5,142.95h4.9M502.5,96.09h4.9M502.5,49.23h4.9" stroke="#000" stroke-width="1.1" fill="none"/>
<text x="495" y="16.4" font-size="16.7" text-anchor="middle">Eff [-]</text>
</svg></body></html>
